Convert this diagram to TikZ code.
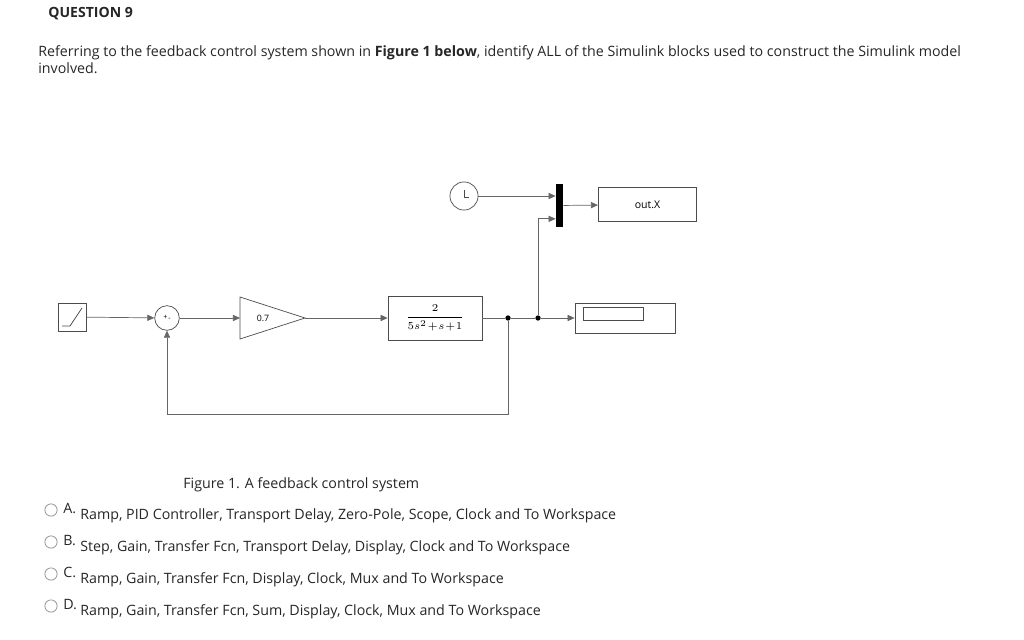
\documentclass[tikz,border=0pt]{standalone}
\usepackage{fontspec}
\setmainfont{Open Sans}
\usetikzlibrary{arrows.meta, positioning}
\begin{document}
\begin{tikzpicture}[
    x=0.02cm, y=-0.02cm,
    % block styles
    blk/.style={rectangle, draw=black!70, fill=white, inner sep=0pt, font=\fontsize{5}{6}\selectfont},
    sig/.style={draw=black!60, -{Triangle[length=4pt, width=3.5pt]}},
    wire/.style={draw=black!60},
    dot/.style={circle, fill=black, inner sep=0pt, minimum size=3pt},
    txt/.style={anchor=base west, inner sep=0pt, font=\fontsize{8.1}{9}\selectfont, text=black!85},
    opt/.style={circle, draw=black!45, inner sep=0pt, minimum size=7pt}
]
\useasboundingbox (0,0) rectangle (1024,639);

% --- question text ---
\node [txt, font=\fontsize{8}{9}\selectfont\bfseries] (title) at (48,17) {QUESTION 9};
\node [txt] (q1) at (38,56) {Referring to the feedback control system shown in \textbf{Figure 1 below}, identify ALL of the Simulink blocks used to construct the Simulink model};
\node [txt] (q2) at (38,73) {involved.};

% --- blocks ---
\node [blk, minimum size=0.56cm] (ramp) at (72,317) {};
\draw [black!70] (62,326) -- (70,326) -- (82,308);
\node [circle, draw=black!70, minimum size=14pt, inner sep=0pt, font=\fontsize{4}{4}\selectfont] (sum) at (167,318) {+\,\raisebox{-1pt}{-}};
\draw [black!70, fill=white] (240,297) -- (305,318) -- (240,339) -- cycle;
\node [font=\fontsize{5}{6}\selectfont] (gain) at (263,318) {0.7};
\coordinate (gainin) at (240,318);
\coordinate (gainout) at (305,318);
\node [blk, minimum width=1.88cm, minimum height=0.88cm, font=\fontsize{6}{7}\selectfont] (tf) at (435,318) {$\displaystyle\frac{2}{5s^2\!+\!s\!+\!1}$};
\node [dot] (j1) at (508,318) {};
\node [dot] (j2) at (538,318) {};
\node [blk, minimum width=2cm, minimum height=0.6cm] (disp) at (625,318) {};
\draw [black!70] (583,307) rectangle (643,320);
\node [circle, draw=black!70, minimum size=16pt, inner sep=0pt] (clock) at (464,196) {};
\draw [black!70] (464,190) -- (464,197) -- (469,197);
\node [rectangle, fill=black, minimum width=4pt, minimum height=24pt, inner sep=0pt] (mux) at (559.5,205.5) {};
\node [blk, minimum width=56pt, minimum height=19pt, font=\fontsize{6}{7}\selectfont] (out) at (647.5,204.5) {out.X};
\coordinate (fb) at (167,414);

% --- signals ---
\draw [sig] (ramp) -- (sum);
\draw [sig] (sum) -- (gainin);
\draw [sig] (gainout) -- (tf);
\draw [wire] (tf) -- (j1) -- (j2);
\draw [sig] (j2) -- (disp);
\draw [sig] (j1) |- (fb) -- (sum);
\draw [sig] (clock) -- (mux.west |- clock);
\draw [sig] (j2) |- ([yshift=-13pt]mux.west |- clock);
\draw [sig] (mux) -- (out);

% --- answers ---
\node [txt] (cap) at (183,488) {Figure 1. A feedback control system};
\foreach \y/\l/\t in {
    514/A./{Ramp, PID Controller, Transport Delay, Zero-Pole, Scope, Clock and To Workspace},
    546/B./{Step, Gain, Transfer Fcn, Transport Delay, Display, Clock and To Workspace},
    578/C./{Ramp, Gain, Transfer Fcn, Display, Clock, Mux and To Workspace},
    610/D./{Ramp, Gain, Transfer Fcn, Sum, Display, Clock, Mux and To Workspace}}{
    \node [opt] at (51,\y-4) {};
    \node [txt] at (63,\y-1) {\l};
    \node [txt] at (80,\y+5) {\t};
}
\end{tikzpicture}
\end{document}
